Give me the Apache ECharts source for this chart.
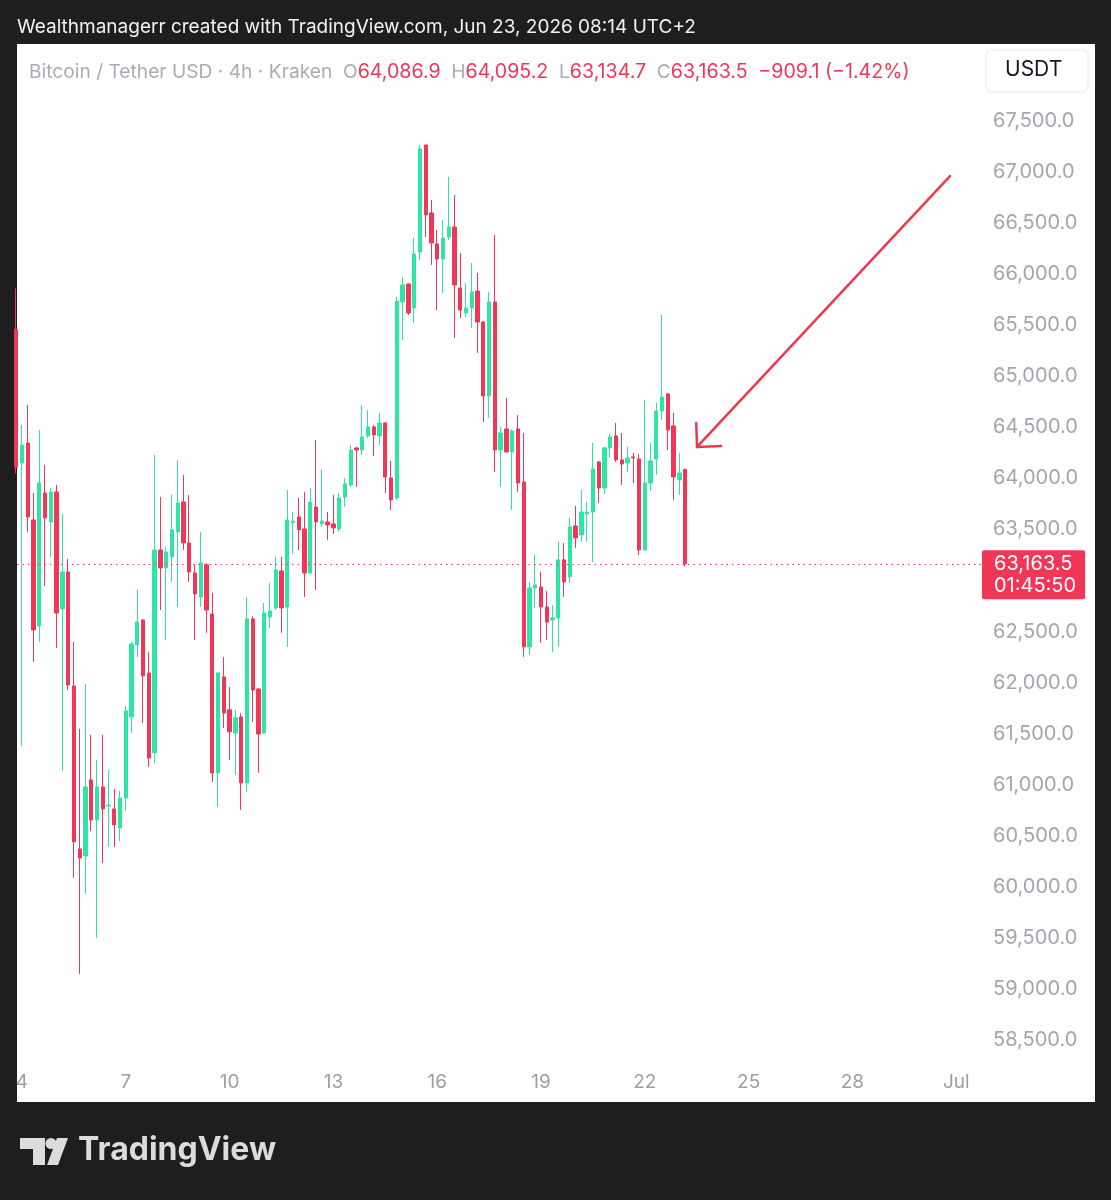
<!DOCTYPE html>
<html>
<head>
<meta charset="utf-8">
<script src="https://cdn.jsdelivr.net/npm/echarts@6/dist/echarts.min.js"></script>
<style>
html,body{margin:0;padding:0;background:#1e1e1e;}
#chart{width:1111px;height:1200px;}
</style>
</head>
<body>
<div id="chart"></div>
<script>
// ---- data (4h candles, BTC/USDT Kraken) ----
const startTime = '2026-06-03T20:00:00';
const candleHours = 4;
const openVals = [65460,64150,64347,63593,62555,63857,63573,63867,62722,63084,61967,60371,60303,61047,60655,60978,60792,60763,60577,60871,
61664,62369,62614,62095,61312,63299,63123,63231,63476,63769,63368,63074,62839,63153,62672,61116,62056,61733,61507,61664,
61018,62624,61938,61507,62643,62731,63094,62741,63565,63622,63505,63074,63720,63554,63573,63554,63505,63818,63936,64298,
64278,64416,64504,64416,64543,64004,63808,65727,65904,65669,66217,67265,66599,66296,66149,66364,66462,65865,65620,65669,
65835,65532,64807,65728,64279,64484,64259,64484,63965,62349,62927,62937,62741,62614,62633,63202,63035,63534,63446,63652,
63671,64161,63906,64298,64416,64181,64151,64210,64190,63299,63955,64190,64660,64827,64514,63985,64086.9];
const highVals = [65860,64523,64719,63857,64474,64132,63906,63936,63652,63211,62398,61547,61987,61488,61243,61488,61145,60959,60939,61772,
62398,62908,62620,62300,64229,63818,63329,63838,64180,64034,63838,63153,63476,63170,62878,62100,62251,61957,61733,61700,
62839,62650,61950,62780,62976,63231,63231,63887,63671,63808,63867,63906,64376,64083,63671,63838,63857,64004,64327,64308,
64719,64670,64523,64641,64553,64171,65777,65973,65910,66354,67265,67270,66726,66433,66531,66952,66776,66207,65914,66110,
66012,65540,65826,66384,64504,64788,64480,64621,64445,62986,63251,63084,62898,62761,63378,63368,63613,63730,63887,63769,
64347,64170,64308,64435,64543,64445,64308,64250,64240,64768,64347,64739,65600,64837,64641,64250,64095.2];
const lowVals = [64050,61380,63476,62203,62398,62947,63231,62340,61135,61928,60088,59148,59931,60548,59500,60234,60391,60391,60450,60744,
61507,62251,61605,61174,61214,62711,62418,62986,62741,63299,62986,62418,62741,62487,61028,60783,61556,61243,61096,60754,
60930,61615,61116,61500,62535,62711,62487,62349,63260,63299,62839,63060,62908,63525,63397,63456,63476,63720,63916,63916,
64230,64396,64220,64327,63857,63691,63790,65356,65600,65522,66139,66364,66090,65649,65816,66335,65375,65571,65581,65473,
65228,64553,64592,64063,63916,64250,63691,63867,62252,62271,62731,62389,62418,62300,62349,62839,62976,63319,63378,63378,
63182,63760,63847,64210,64161,63936,64063,63955,63250,63290,63877,64034,64572,64279,63789,63838,63134.7];
const closeVals = [64110,64327,63622,62516,63955,63613,63867,62682,63084,61977,60440,60283,60978,60655,60978,60763,60802,60606,60871,61723,
62379,62594,62066,61262,63299,63123,63280,63495,63760,63368,63084,62868,63172,62711,61116,62095,61703,61518,61655,61018,
62624,61928,61497,62682,62702,63104,62731,63593,63580,63495,63074,63769,63573,63583,63544,63515,63808,63946,64278,64278,
64406,64504,64425,64543,64014,63789,65737,65894,65620,66198,67226,66580,66305,66149,66354,66462,65894,65649,65669,65826,
65532,64807,65728,64279,64445,64259,64465,63955,62350,62927,62957,62741,62594,62634,63202,62986,63525,63417,63671,63671,
64092,63906,64298,64406,64181,64141,64200,64200,63299,63955,64171,64660,64797,64474,64014,64053,63163.5];

const priceTicks = [58500,59000,59500,60000,60500,61000,61500,62000,62500,63000,63500,64000,64500,65000,65500,66000,66500,67000,67500];
const dayTicks = [4,7,10,13,16,19,22,25,28,31];
const dayTickLabels = ['4','7','10','13','16','19','22','25','28','Jul'];
const lastPrice = 63163.5;
const countdown = '01:45:50';
const arrowFrom = [30.82, 66961];
const arrowTo = [23.51, 64308];

// ---- build ----
const monthStart = Date.parse('2026-06-01T00:00:00');
const t0 = Date.parse(startTime);
function dayOf(ms){ return (ms - monthStart) / 86400000 + 1; }
const candles = openVals.map((o, i) => {
  const x = dayOf(t0 + i * candleHours * 3600000);
  return [x, o, closeVals[i], lowVals[i], highVals[i]];
});

const UP = '#2ee6a3', DOWN = '#f23658', ARROW = '#f2364f';
const fmtPrice = v => Number(v).toLocaleString('en-US', {minimumFractionDigits:1, maximumFractionDigits:1});
const FONT = 'Inter, "Noto Sans", sans-serif';

const chart = echarts.init(document.getElementById('chart'), null, {renderer:'canvas'});
chart.setOption({
  animation: false,
  backgroundColor: '#1e1e1e',
  textStyle: {fontFamily: FONT},
  grid: {left: 17, top: 44, width: 965, height: 1020, containLabel: false},
  xAxis: {
    type: 'value',
    min: 3.8555, max: 31.745,
    axisLine: {show: false}, axisTick: {show: false}, splitLine: {show: false},
    axisLabel: {
      customValues: dayTicks,
      formatter: v => dayTickLabels[dayTicks.indexOf(v)] || '',
      color: '#9b9ea6', fontSize: 19, margin: 9, fontFamily: FONT,
      showMinLabel: true, showMaxLabel: true
    }
  },
  yAxis: {
    type: 'value', position: 'right',
    min: 58265, max: 68254, scale: true,
    axisLine: {show: false}, axisTick: {show: false}, splitLine: {show: false},
    axisLabel: {
      customValues: priceTicks,
      formatter: v => fmtPrice(v),
      color: '#a3a6ae', fontSize: 20, margin: 11, align: 'left', fontFamily: FONT
    }
  },
  graphic: [
    {type:'rect', z:-10, silent:true, shape:{x:17, y:44, width:1078, height:1058}, style:{fill:'#ffffff'}},
    {type:'text', z:10, left:17, top:18, style:{text:'Wealthmanagerr created with TradingView.com, Jun 23, 2026 08:14 UTC+2', fill:'#f2f2f2', font:'19px ' + FONT}},
    {type:'text', z:10, left:29, top:62, style:{
      text:'{g|Bitcoin / Tether USD · 4h · Kraken}  {g|O}{r|64,086.9}  {g|H}{r|64,095.2}  {g|L}{r|63,134.7}  {g|C}{r|63,163.5}  {r|−909.1 (−1.42%)}',
      rich:{
        g:{fill:'#a9acb4', fontSize:19.2, fontFamily:FONT},
        r:{fill:DOWN, fontSize:19.6, fontFamily:FONT}
      },
      font:'19px ' + FONT
    }},
    {type:'rect', z:10, shape:{x:986, y:50, width:102, height:42, r:6}, style:{fill:'#ffffff', stroke:'#eceef2', lineWidth:1, shadowBlur:3, shadowColor:'rgba(0,0,0,0.06)'}},
    {type:'text', z:11, left:1005, top:59, style:{text:'USDT', fill:'#131722', font:'21px ' + FONT}},
    // footer logo
    {type:'group', z:10, children:[
      {type:'rect', shape:{x:20, y:1138, width:25, height:11}, style:{fill:'#dcdcdc'}},
      {type:'rect', shape:{x:33, y:1138, width:12, height:27}, style:{fill:'#dcdcdc'}},
      {type:'circle', shape:{cx:51, cy:1143.5, r:5.5}, style:{fill:'#dcdcdc'}},
      {type:'polygon', shape:{points:[[57,1138],[68,1138],[58,1165],[47,1165]]}, style:{fill:'#dcdcdc'}}
    ]},
    {type:'text', z:10, left:78, top:1134, style:{text:'TradingView', fill:'#dcdcdc', font:'bold 32px ' + FONT}}
  ],
  series: [
    {
      type: 'candlestick',
      data: candles,
      encode: {x: 0, y: [1, 2, 3, 4]},
      barWidth: 3.8,
      clip: true,
      itemStyle: {color: UP, color0: DOWN, borderColor: UP, borderColor0: DOWN, borderWidth: 1},
      markLine: {
        silent: true, symbol: 'none', animation: false,
        lineStyle: {color: DOWN, type: [1.5, 4], width: 1},
        label: {
          show: true, position: 'end', distance: 0, offset: [0, 11],
          formatter: () => fmtPrice(lastPrice) + '\n' + countdown,
          backgroundColor: DOWN, color: '#ffffff', fontSize: 20, lineHeight: 22,
          padding: [3, 9, 2, 12], borderRadius: 2, fontFamily: FONT, align: 'left'
        },
        data: [{yAxis: lastPrice}]
      }
    },
    {
      type: 'line', id: 'arrow', data: [], silent: true,
      markLine: {
        silent: true, animation: false, symbol: 'none',
        lineStyle: {color: ARROW, type: 'solid', width: 2.5, cap: 'round'},
        label: {show: false},
        data: [[{coord: arrowFrom}, {coord: arrowTo}]]
      }
    }
  ]
});

// arrowhead: two arms at ±45° from the shaft, built through the chart's own scales
const tipPx = chart.convertToPixel({gridIndex: 0}, arrowTo);
const tailPx = chart.convertToPixel({gridIndex: 0}, arrowFrom);
const dx = tailPx[0] - tipPx[0], dy = tailPx[1] - tipPx[1];
const len = Math.hypot(dx, dy), ux = dx / len, uy = dy / len;
const armLen = 24;
const arms = [Math.PI / 4, -Math.PI / 4].map(a => {
  const rx = ux * Math.cos(a) - uy * Math.sin(a);
  const ry = ux * Math.sin(a) + uy * Math.cos(a);
  const end = chart.convertFromPixel({gridIndex: 0}, [tipPx[0] + rx * armLen, tipPx[1] + ry * armLen]);
  return [{coord: arrowTo}, {coord: end}];
});
chart.setOption({
  series: [{}, {
    id: 'arrow',
    markLine: {data: [[{coord: arrowFrom}, {coord: arrowTo}]].concat(arms)}
  }]
});
</script>
</body>
</html>
